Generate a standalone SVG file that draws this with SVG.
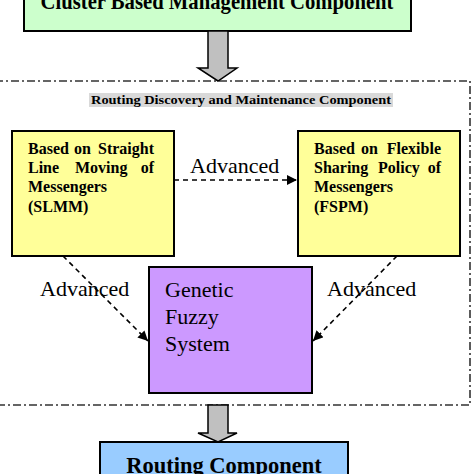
<svg xmlns="http://www.w3.org/2000/svg" width="474" height="474" viewBox="0 0 474 474">
<defs>
<style>
.box{stroke:#000;stroke-width:2}
.b{font-family:'Liberation Serif','Times New Roman','DejaVu Serif',serif;font-weight:bold;fill:#000}
.n{font-family:'Liberation Serif','Times New Roman','DejaVu Serif',serif;fill:#000}
.dash{stroke:#000;stroke-width:1.6;stroke-dasharray:5,4;fill:none}
.big{fill:#c0c0c0;stroke:#000;stroke-width:1.5}
</style>
<marker id="ah" markerWidth="10" markerHeight="10" viewBox="0 0 10 10" refX="10" refY="5" orient="auto" markerUnits="userSpaceOnUse">
<path d="M0,0 L10,5 L0,10 Z" fill="#000"/>
</marker>
</defs>
<rect width="474" height="474" fill="#fff"/>
<g id="frame">
<rect x="-5" y="81" width="475" height="324" fill="none" stroke="#333" stroke-width="1.6" stroke-dasharray="8,3,2,3"/>
<rect x="89" y="93" width="304" height="14" fill="#d9d9d9"/>
<text class="b" x="241" y="104" font-size="13" text-anchor="middle" textLength="300" lengthAdjust="spacingAndGlyphs">Routing Discovery and Maintenance Component</text>
</g>
<g id="cluster">
<rect class="box" x="24" y="-10" width="387" height="41" fill="#ccffcc"/>
<text class="b" x="217" y="9" font-size="23" text-anchor="middle" textLength="353" lengthAdjust="spacingAndGlyphs">Cluster Based Management Component</text>
</g>
<g id="slmm">
<rect class="box" x="12" y="131" width="162" height="125" fill="#ffff99"/>
<text class="b" font-size="16">
<tspan x="28" y="154">Based</tspan><tspan x="74" y="154">on</tspan><tspan x="158" y="154" text-anchor="end">Straight</tspan>
<tspan x="28" y="173">Line</tspan><tspan x="75" y="173">Moving</tspan><tspan x="158" y="173" text-anchor="end">of</tspan>
<tspan x="28" y="192">Messengers</tspan>
<tspan x="28" y="212">(SLMM)</tspan>
</text>
</g>
<g id="fspm">
<rect class="box" x="298" y="131" width="162" height="125" fill="#ffff99"/>
<text class="b" font-size="16">
<tspan x="314" y="154">Based</tspan><tspan x="361" y="154">on</tspan><tspan x="445" y="154" text-anchor="end">Flexible</tspan>
<tspan x="314" y="173">Sharing</tspan><tspan x="378" y="173">Policy</tspan><tspan x="445" y="173" text-anchor="end">of</tspan>
<tspan x="314" y="192">Messengers</tspan>
<tspan x="314" y="212">(FSPM)</tspan>
</text>
</g>
<g id="gfs">
<rect class="box" x="149" y="267" width="163" height="126" fill="#cc99ff"/>
<text class="n" font-size="22">
<tspan x="165" y="297">Genetic</tspan>
<tspan x="165" y="324">Fuzzy</tspan>
<tspan x="165" y="351">System</tspan>
</text>
</g>
<g id="routing">
<rect class="box" x="100" y="442" width="248" height="45" fill="#99ccff"/>
<text class="b" x="224" y="473" font-size="22.5" text-anchor="middle">Routing Component</text>
</g>
<g id="connectors">
<path class="big" d="M208,31 L228,31 L228,68 L237,68 L218,81 L198,68 L208,68 Z"/>
<path class="big" d="M208,405 L228,405 L228,433 L237,433 L218,442 L198,433 L208,433 Z"/>
<line class="dash" x1="174" y1="180" x2="297" y2="180" marker-end="url(#ah)"/>
<line class="dash" x1="63" y1="256" x2="148" y2="341" marker-end="url(#ah)"/>
<line class="dash" x1="397" y1="256" x2="313" y2="341" marker-end="url(#ah)"/>
<text class="n" x="190" y="173" font-size="22">Advanced</text>
<text class="n" x="40" y="296" font-size="22">Advanced</text>
<text class="n" x="327" y="296" font-size="22">Advanced</text>
</g>
</svg>
